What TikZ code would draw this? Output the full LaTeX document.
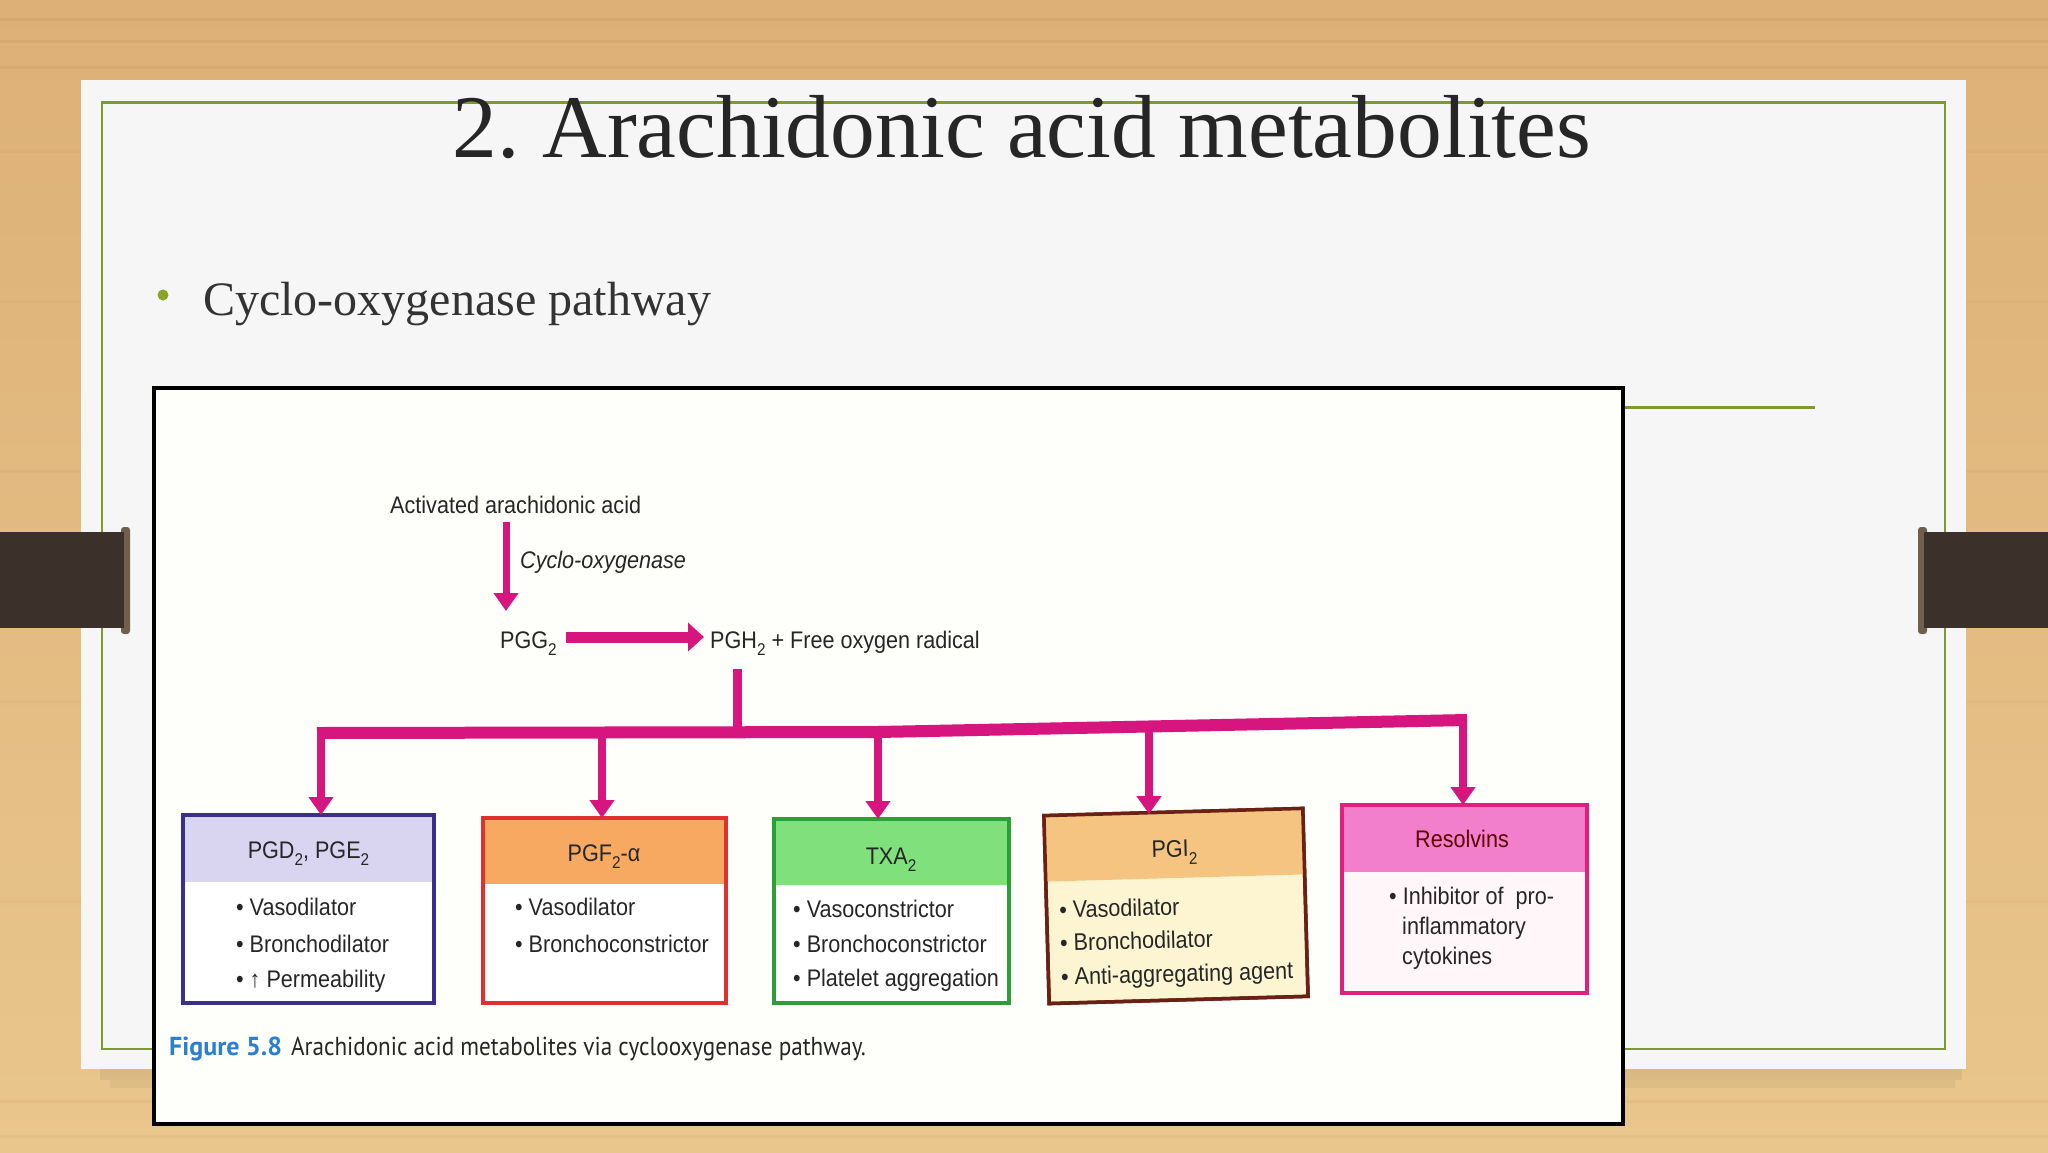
\documentclass[tikz,border=0pt]{standalone}
\usepackage{fontspec}
\setmainfont{Liberation Serif}
\newfontfamily\figfont[FakeStretch=0.9]{Liberation Sans}
\newfontfamily\capfont{PT Sans}
\newfontfamily\capfontn[FakeStretch=0.89]{PT Sans}
\usetikzlibrary{arrows.meta}
\newcommand{\sbs}[1]{\raisebox{-0.32em}{\fontsize{17}{17}\selectfont #1}}
\definecolor{woodA}{HTML}{DDB077}
\definecolor{woodB}{HTML}{E9C68C}
\definecolor{slide}{HTML}{F6F6F6}
\definecolor{frame}{HTML}{7E9A2C}
\definecolor{tab}{HTML}{3B312A}
\definecolor{knob}{HTML}{6E604C}
\definecolor{mag}{HTML}{D6157F}
\definecolor{txt}{HTML}{262626}
\definecolor{hA}{HTML}{D9D5F1}\definecolor{bA}{HTML}{3A2F8E}
\definecolor{hB}{HTML}{F7A962}\definecolor{bB}{HTML}{E0312F}
\definecolor{hC}{HTML}{7FE07C}\definecolor{bC}{HTML}{2E9E37}
\definecolor{hD}{HTML}{F5C480}\definecolor{dD}{HTML}{FDF5D2}\definecolor{bD}{HTML}{6A2012}
\definecolor{hE}{HTML}{F27FCB}\definecolor{dE}{HTML}{FFF6FA}\definecolor{bE}{HTML}{E01F7F}
\definecolor{capblue}{HTML}{2B7FD0}
\definecolor{figbg}{HTML}{FEFEFB}
\begin{document}
\begin{tikzpicture}[x=1pt,y=-1pt,
  figtext/.style={font=\figfont\fontsize{24}{28}\selectfont, text=txt, inner sep=0pt, anchor=base west},
  figtextc/.style={font=\figfont\fontsize{24}{28}\selectfont, text=txt, inner sep=0pt, anchor=base},
  box/.style={rectangle, line width=3.5pt, outer sep=0pt, inner sep=0pt},
  magline/.style={draw=mag, line width=8pt},
  magarrow/.style={draw=mag, line width=8pt, -{Triangle[width=24pt,length=18pt]}, mag}
]
\useasboundingbox (0,0) rectangle (2048,1152);
% wood background
\shade[top color=woodA, bottom color=woodB] (0,0) rectangle (2048,1152);
\foreach \yy/\op in {18/0.10,40/0.08,66/0.07,150/0.04,300/0.04,470/0.05,700/0.04,900/0.05,1100/0.06,1135/0.05}{
  \fill[brown!70!black, opacity=\op] (0,\yy) rectangle (2048,\yy+3);
}
% slide shadow
\fill[black, opacity=0.06] (100,1069) rectangle (1962,1080);
\fill[black, opacity=0.04] (110,1080) rectangle (1955,1088);
% slide
\fill[slide] (81,80) rectangle (1966,1069);
% green frame
\draw[frame, line width=2.5pt] (102,102) rectangle (1945,1049);
\draw[frame, line width=3pt] (102,102) -- (1945,102);
% tabs
\fill[knob, rounded corners=3pt] (121,527) rectangle (130,634);
\fill[tab] (0,532) rectangle (124,628);
\fill[knob, rounded corners=3pt] (1918,527) rectangle (1927,634);
\fill[tab] (1924,532) rectangle (2048,628);
% title
\node[font=\fontsize{89.5}{96}\selectfont, text=black!85, inner sep=0pt, anchor=base] (title) at (1022,157) {2.\ Arachidonic acid metabolites};
% bullet
\fill[frame!90!yellow] (163,295) circle (5.5pt);
\node[font=\fontsize{48}{56}\selectfont, text=black!80, inner sep=0pt, anchor=base west] (bul) at (203,315) {Cyclo-oxygenase pathway};
% green line right of figure
\draw[frame, line width=3pt] (1623,407) -- (1815,407);
% figure
\node[draw=black, line width=4pt, fill=figbg, outer sep=0pt, inner sep=0pt, minimum width=1469pt, minimum height=736pt] (fig) at (888.5,756) {};
% top chain
\node[figtext] (aa) at (390,513) {Activated arachidonic acid};
\node[figtext, font=\figfont\itshape\fontsize{24}{28}\selectfont] (cox) at (520,568) {Cyclo-oxygenase};
\node[figtext] (pgg) at (500,648) {PGG\sbs{2}};
\node[figtext] (pgh) at (710,648) {PGH\sbs{2} + Free oxygen radical};
\coordinate (d1) at (506,522);
\coordinate (d2) at (506,611);
\draw[magarrow, line width=7pt] (d1) -- (d2);
\coordinate (h1) at (566,637);
\coordinate (h2) at (704,637);
\draw[draw=mag, line width=11pt, -{Triangle[width=28pt,length=16pt]}, mag] (h1) -- (h2);
% stem and bar
\coordinate (s1) at (737,669);
\coordinate (s2) at (737,733);
\draw[magline, line width=9pt] (s1) -- (s2);
\coordinate (j1) at (321,733);
\coordinate (j2) at (602,733);
\coordinate (j3) at (878,732);
\coordinate (j4) at (1149,727);
\coordinate (j5) at (1463,720);
\draw[magline, line width=12pt, line join=miter] ([xshift=-4pt]j1) -- (j3) -- ([xshift=4pt]j5);
% boxes
\node[box, draw=bA, fill=white, minimum width=251pt, minimum height=188pt] (b1) at (308.5,909) {};
\node[box, draw=bB, fill=white, minimum width=243pt, minimum height=185pt] (b2) at (604.5,910.5) {};
\node[box, draw=bC, fill=white, minimum width=235pt, minimum height=184pt] (b3) at (891.5,911) {};
\begin{scope}[rotate around={1.6:(1176,906)}, transform shape]
\node[box, draw=bD, fill=dD, minimum width=259pt, minimum height=188pt] (b4) at (1176,906) {};
\coordinate (e4r) at (1305.5,878);
\coordinate (e4l) at (1046.5,878);
\fill[hD] (b4.north west) -- (b4.north east) -- (e4r) -- (e4l) -- cycle;
\draw[bD, line width=3.5pt] (b4.north west) -- (b4.north east) -- (b4.south east) -- (b4.south west) -- cycle;
\node[figtextc] (t4) at (1176,857) {PGI\sbs{2}};
\node[figtext] (t4a) at (1059,915) {• Vasodilator};
\node[figtext] (t4b) at (1059,948) {• Bronchodilator};
\node[figtext] (t4c) at (1059,982) {• Anti-aggregating agent};
\end{scope}
\node[box, draw=bE, fill=dE, minimum width=245pt, minimum height=188pt] (b5) at (1464.5,899) {};
\coordinate (e1) at (434,882);
\coordinate (e2) at (726,884);
\coordinate (e3) at (1009,885);
\coordinate (e5) at (1587,872);
\fill[hA] (b1.north west) rectangle (e1);
\fill[hB] (b2.north west) rectangle (e2);
\fill[hC] (b3.north west) rectangle (e3);
\fill[hE] (b5.north west) rectangle (e5);
\draw[bA, line width=3.5pt] (b1.north west) rectangle (b1.south east);
\draw[bB, line width=3.5pt] (b2.north west) rectangle (b2.south east);
\draw[bC, line width=3.5pt] (b3.north west) rectangle (b3.south east);
\draw[bE, line width=3.5pt] (b5.north west) rectangle (b5.south east);
% branch arrows
\draw[magarrow] (j1) -- (j1 |- b1.north);
\draw[magarrow] (j2) -- (j2 |- b2.north);
\draw[magarrow] (j3) -- (j3 |- b3.north);
\draw[magarrow] (j4) -- ([yshift=-2pt]j4 |- b4.north);
\draw[magarrow] (j5) -- (j5 |- b5.north);
% box texts
\node[figtextc] (t1) at (308.5,858) {PGD\sbs{2}, PGE\sbs{2}};
\node[figtext] (t1a) at (236,915) {• Vasodilator};
\node[figtext] (t1b) at (236,952) {• Bronchodilator};
\node[figtext] (t1c) at (236,987) {• ↑ Permeability};
\node[figtextc] (t2) at (604,861) {PGF\sbs{2}-α};
\node[figtext] (t2a) at (515,915) {• Vasodilator};
\node[figtext] (t2b) at (515,952) {• Bronchoconstrictor};
\node[figtextc] (t3) at (891,864) {TXA\sbs{2}};
\node[figtext] (t3a) at (793,917) {• Vasoconstrictor};
\node[figtext] (t3b) at (793,952) {• Bronchoconstrictor};
\node[figtext] (t3c) at (793,986) {• Platelet aggregation};
\node[figtextc, text=black!65!red] (t5) at (1462,847) {Resolvins};
\node[figtext] (t5a) at (1389,904) {• Inhibitor of \ pro-};
\node[figtext] (t5b) at (1402,934) {inflammatory};
\node[figtext] (t5c) at (1402,964) {cytokines};
% caption
\node[font=\capfont\bfseries\fontsize{26}{30}\selectfont, text=capblue, inner sep=0pt, anchor=base west] (cap1) at (169,1055) {Figure 5.8};
\node[font=\capfontn\fontsize{26}{30}\selectfont, text=txt, inner sep=0pt, anchor=base west] (cap2) at (291,1055) {Arachidonic acid metabolites via cyclooxygenase pathway.};
\end{tikzpicture}
\end{document}
